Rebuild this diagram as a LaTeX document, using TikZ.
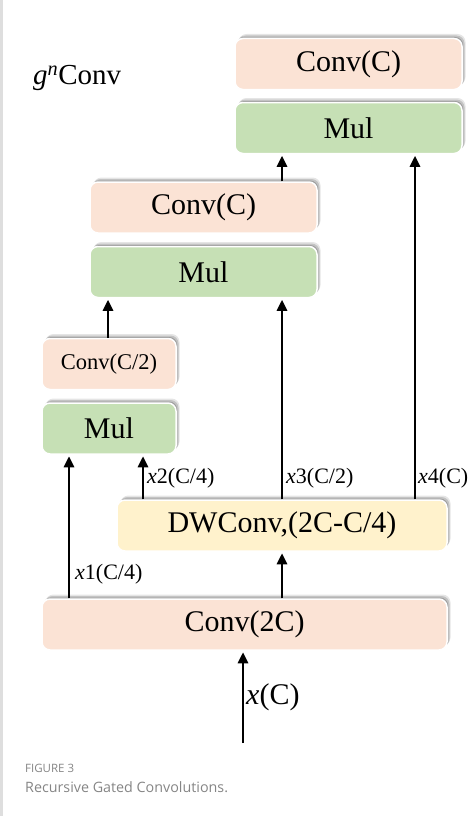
\documentclass[tikz,border=0pt]{standalone}
\usepackage{fontspec}
\setmainfont{Liberation Serif}
\newfontfamily\capfont{Open Sans}
\usetikzlibrary{arrows.meta,shadows}
\definecolor{peach}{HTML}{FBE3D5}
\definecolor{leaf}{HTML}{C6E0B5}
\definecolor{cream}{HTML}{FFF2CC}
\definecolor{capgray}{HTML}{858585}
\tikzset{
  blk/.style={draw=white, line width=1.5pt, rounded corners=8pt, inner sep=0pt,
    minimum height=51pt, text=black, font=\fontsize{30}{34}\selectfont,
    drop shadow={shadow xshift=3.5pt, shadow yshift=4.5pt, opacity=0.10, fill=black},
    drop shadow={shadow xshift=2.5pt, shadow yshift=3pt, opacity=0.15, fill=black},
    drop shadow={shadow xshift=1.2pt, shadow yshift=1.5pt, opacity=0.2, fill=black}},
  convbox/.style={blk, fill=peach},
  mulbox/.style={blk, fill=leaf},
  dwbox/.style={blk, fill=cream},
  arr/.style={line width=2.6pt, shorten >=1.5pt, -{Triangle[width=10pt,length=11pt]}},
  lbl/.style={anchor=west, inner sep=0pt, font=\fontsize{22}{26}\selectfont},
}
\begin{document}
\begin{tikzpicture}[x=1pt,y=-1pt]
\useasboundingbox (0,0) rectangle (474,816);
\fill[black!13] (0,0) rectangle (3,816);
% title
\node[anchor=west, inner sep=0pt, font=\fontsize{29}{34}\selectfont] (title) at (33,78) {\textit{g}\textsuperscript{\textit{n}}Conv};
% boxes
\node[convbox, minimum width=227pt] (topconv) at (348.5,64) {Conv(C)};
\node[mulbox, minimum width=227pt] (topmul) at (348.5,128) {Mul};
\node[convbox, minimum width=227pt] (midconv) at (203.5,207.5) {Conv(C)};
\node[mulbox, minimum width=227pt] (midmul) at (203.5,272) {Mul};
\node[convbox, minimum width=134pt, font=\fontsize{22.5}{26}\selectfont] (smconv) at (109,364) {Conv(C/2)};
\node[mulbox, minimum width=134pt] (smmul) at (109,428.5) {Mul};
\node[dwbox, minimum width=330pt] (dw) at (282,525.5) {DWConv,(2C-C/4)};
\node[convbox, minimum width=405pt] (conv2c) at (244.5,624.5) {Conv(2C)};
\coordinate (in) at (243,743);
% arrows
\draw[arr] (in) -- (conv2c.south -| in);
\draw[arr] (conv2c.north -| 282,0) -- (dw.south -| 282,0);
\draw[arr] (conv2c.north -| 69,0) -- (smmul.south -| 69,0);
\draw[arr] (dw.north -| 143,0) -- (smmul.south -| 143,0);
\draw[arr] (dw.north -| 282,0) -- (midmul.south -| 282,0);
\draw[arr] (dw.north -| 415,0) -- (topmul.south -| 415,0);
\draw[arr] (smconv.north -| 108,0) -- (midmul.south -| 108,0);
\draw[arr] (midconv.north -| 282,0) -- (topmul.south -| 282,0);
% labels
\node[lbl] (l1) at (75,574) {\textit{x}1(C/4)};
\node[lbl] (l2) at (147,478) {\textit{x}2(C/4)};
\node[lbl] (l3) at (286,478) {\textit{x}3(C/2)};
\node[lbl] (l4) at (418,478) {\textit{x}4(C)};
\node[lbl, font=\fontsize{30}{34}\selectfont] (lx) at (246,697) {\textit{x}(C)};
% caption
\node[anchor=west, inner sep=0pt, text=capgray, font=\capfont\fontsize{11.5}{14}\selectfont] (fig) at (25,768) {FIGURE 3};
\node[anchor=west, inner sep=0pt, text=capgray, font=\capfont\fontsize{14.3}{17}\selectfont] (cap) at (25,787) {Recursive Gated Convolutions.};
\end{tikzpicture}
\end{document}
